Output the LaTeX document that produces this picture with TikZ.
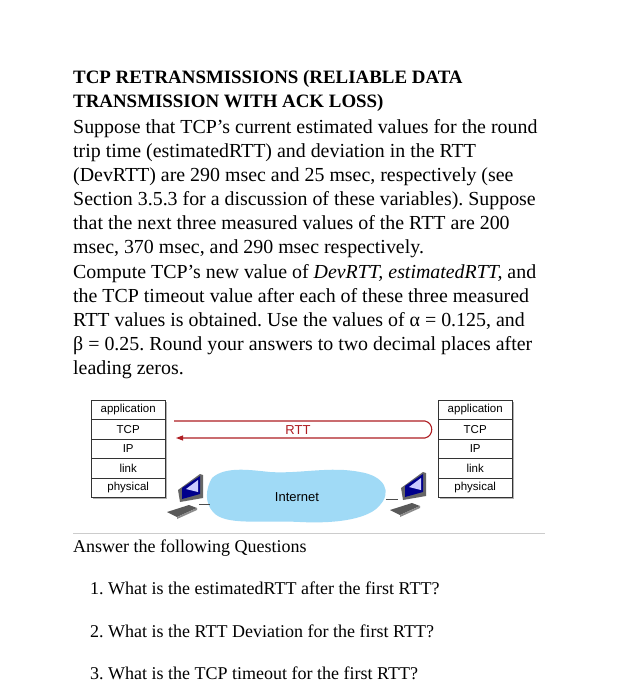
\documentclass[tikz,border=0pt]{standalone}
\usepackage{fontspec}
\setmainfont{Liberation Serif}
\newfontfamily\arialf{Liberation Sans}
\frenchspacing
\begin{document}
\begin{tikzpicture}[x=1pt,y=-1pt,
  body/.style={anchor=base west,inner sep=0pt,font=\fontsize{19.9}{20}\selectfont},
  ttl/.style={anchor=base west,inner sep=0pt,font=\fontsize{18.9}{20}\selectfont\bfseries},
  qs/.style={anchor=base west,inner sep=0pt,font=\fontsize{18}{18}\selectfont},
  layer/.style={draw=black!80,fill=white,minimum width=74pt,minimum height=19.4pt,inner sep=0pt,font=\arialf\fontsize{11.5}{12}\selectfont,anchor=north west},
  rttc/.style={draw={rgb,255:red,175;green,30;blue,35},line width=1.1pt}]
\definecolor{rttred}{RGB}{175,30,35}
\definecolor{cloudblue}{RGB}{160,218,246}
\useasboundingbox (0,0) rectangle (617,700);
\fill[white] (0,0) rectangle (617,700);
\node[ttl] (t1) at (73,84) {TCP RETRANSMISSIONS (RELIABLE DATA};
\node[ttl] (t2) at (73,108) {TRANSMISSION WITH ACK LOSS)};
\node[body] (b1) at (73,134) {Suppose that TCP's current estimated values for the round};
\node[body] (b2) at (73,158) {trip time (estimatedRTT) and deviation in the RTT};
\node[body] (b3) at (73,182) {(DevRTT) are 290 msec and 25 msec, respectively (see};
\node[body] (b4) at (73,206) {Section 3.5.3 for a discussion of these variables). Suppose};
\node[body] (b5) at (73,230) {that the next three measured values of the RTT are 200};
\node[body] (b6) at (73,254) {msec, 370 msec, and 290 msec respectively.};
\node[body] (b7) at (73,278) {Compute TCP's new value of \textit{DevRTT, estimatedRTT,} and};
\node[body] (b8) at (73,302) {the TCP timeout value after each of these three measured};
\node[body] (b9) at (73,326) {RTT values is obtained. Use the values of α = 0.125, and};
\node[body] (b10) at (73,350) {β = 0.25. Round your answers to two decimal places after};
\node[body] (b11) at (73,374) {leading zeros.};
% stacks
\foreach \sx/\nm in {91/L,438/R}{
  \fill[black!30] (\sx+2,402) rectangle (\sx+76,499);
  \foreach \t [count=\i from 0] in {application,TCP,IP,link,physical}
    \node[layer] (\nm\i) at (\sx,400+19.4*\i) {\t};
}
% RTT arrow
\coordinate (ra) at (174,421);
\coordinate (rb) at (425,421);
\coordinate (rc) at (425,438);
\coordinate (rd) at (182,438);
\draw[rttc] (ra) -- (rb) .. controls (434,423) and (434,436) .. (rc) -- (rd);
\fill[rttred] (rd) ++(-6,0) -- ++(7,-2.6) -- ++(0,5.2) -- cycle;
\node[text=rttred,font=\arialf\fontsize{13}{14}\selectfont] (rtt) at (298,430) {RTT};
% cloud
\fill[cloudblue] (212,478) .. controls (225,466) and (250,470) .. (270,472)
  .. controls (300,474) and (330,466) .. (360,472) .. controls (385,476) and (392,492) .. (380,505)
  .. controls (370,518) and (340,524) .. (300,522) .. controls (260,520) and (225,526) .. (213,512)
  .. controls (205,503) and (205,490) .. (212,478) -- cycle;
\node[font=\arialf\fontsize{13}{14}\selectfont] (inet) at (297,497) {Internet};
% computers
\draw[black!70,line width=0.7pt] (199,504) -- (210,504);
\draw[black!70,line width=0.7pt] (386,499) -- (398,499);
\foreach \cx/\cy in {189/488,412/486}{
  \fill[black!60] (\cx-11,\cy+2) -- (\cx+11,\cy-14) -- (\cx+14,\cy-13) -- (\cx+14,\cy+10) -- (\cx-9,\cy+14) -- cycle;
  \fill[blue!55!black] (\cx-7,\cy) -- (\cx+11,\cy-12) -- (\cx+11,\cy+6) -- (\cx-7,\cy+11) -- cycle;
  \fill[blue!20] (\cx-3,\cy+1) -- (\cx+9,\cy-8) -- (\cx+9,\cy+4) -- cycle;
  \fill[black!65] (\cx-22,\cy+24) -- (\cx,\cy+17) -- (\cx+8,\cy+20) -- (\cx-12,\cy+29) -- cycle;
  \fill[black!45] (\cx-12,\cy+29) -- (\cx+8,\cy+20) -- (\cx+8,\cy+22) -- (\cx-12,\cy+31) -- cycle;
}
% separator
\draw[black!20,line width=0.8pt] (73,533) -- (545,533);
\node[qs] (ans) at (73,552) {Answer the following Questions};
\node[qs] (q1) at (90,594) {1. What is the estimatedRTT after the first RTT?};
\node[qs] (q2) at (90,637) {2. What is the RTT Deviation for the first RTT?};
\node[qs] (q3) at (90,679) {3. What is the TCP timeout for the first RTT?};
\end{tikzpicture}
\end{document}
